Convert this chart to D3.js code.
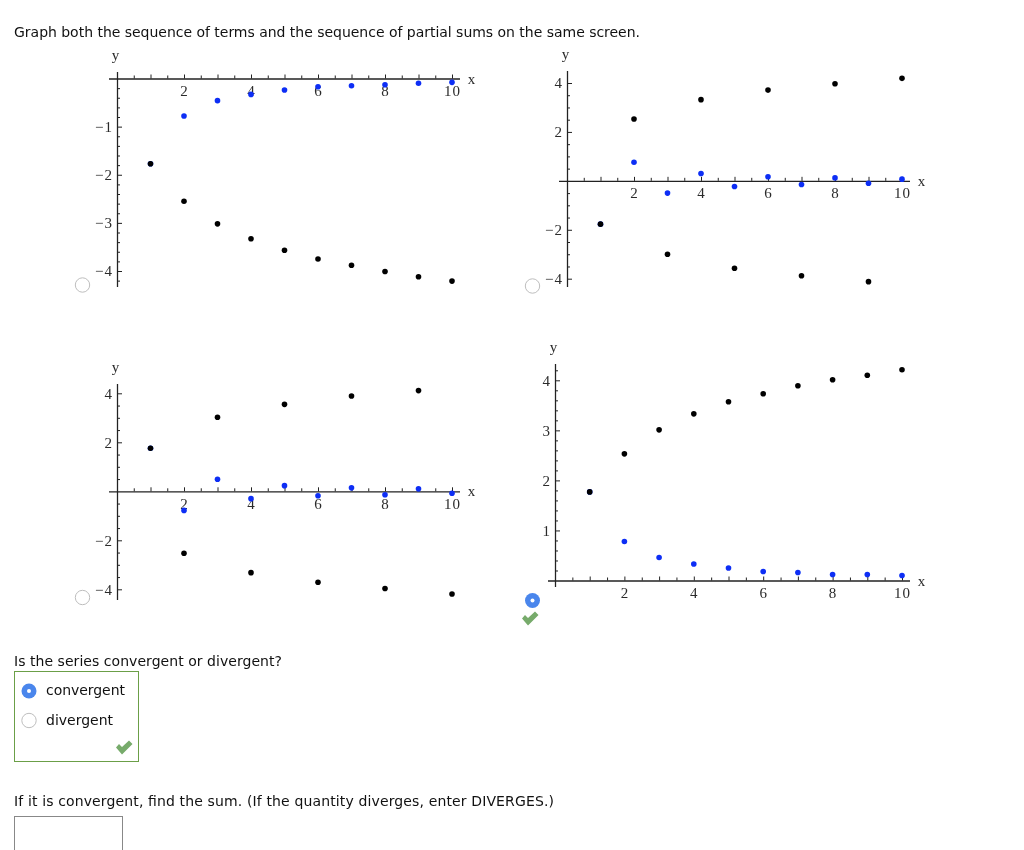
<!DOCTYPE html>
<html>
<head>
<meta charset="utf-8">
<script src="https://cdn.jsdelivr.net/npm/d3@7"></script>
<style>
  html, body { margin: 0; background: #fff; }
  svg { display: block; }
  .copy { font-family: "DejaVu Sans", sans-serif; font-size: 14px; fill: #111; }
  .tick text, .axisName { font-family: "Liberation Serif", serif; font-size: 15px; fill: #2b2b2b; letter-spacing: 1px; }
  .axis path, .axis line { stroke: #222; }
  .axis path { stroke-width: 1.3; }
</style>
</head>
<body>
<svg id="page" width="1024" height="850"></svg>
<script>
const terms = [1, 2, 3, 4, 5, 6, 7, 8, 9, 10]

const blackA = [-1.77, -2.55, -3.02, -3.33, -3.57, -3.75, -3.88, -4.01, -4.12, -4.21]
const blueA = [-1.77, -0.78, -0.46, -0.33, -0.24, -0.17, -0.15, -0.13, -0.10, -0.08]
const blackB = [-1.77, 2.53, -3.0, 3.32, -3.57, 3.71, -3.88, 3.97, -4.12, 4.19]
const blueB = [-1.77, 0.76, -0.5, 0.3, -0.23, 0.17, -0.15, 0.12, -0.1, 0.07]
const blackC = [1.76, -2.53, 3.02, -3.32, 3.55, -3.71, 3.89, -3.97, 4.11, -4.19]
const blueC = [1.76, -0.78, 0.49, -0.3, 0.23, -0.18, 0.14, -0.14, 0.1, -0.08]
const blackD = [1.77, 2.53, 3.01, 3.33, 3.57, 3.73, 3.89, 4.01, 4.1, 4.21]
const blueD = [1.77, 0.78, 0.46, 0.33, 0.25, 0.18, 0.16, 0.12, 0.12, 0.1]

const xLabels = [2, 4, 6, 8, 10]
const yLabelsA = [-1, -2, -3, -4]
const yLabelsB = [-4, -2, 2, 4]
const yLabelsD = [1, 2, 3, 4]

const questions = [
  { text: 'Graph both the sequence of terms and the sequence of partial sums on the same screen.', x: 14, y: 37, w: 626 },
  { text: 'Is the series convergent or divergent?', x: 14, y: 666, w: 268 },
  { text: 'convergent', x: 46, y: 695, w: 79 },
  { text: 'divergent', x: 46, y: 725, w: 67 },
  { text: 'If it is convergent, find the sum. (If the quantity diverges, enter DIVERGES.)', x: 14, y: 806, w: 540 }
]

const svg = d3.select('#page')

const defs = svg.append('defs')
defs.append('filter').attr('id', 'soft')
  .append('feGaussianBlur').attr('stdDeviation', 0.3)

function tickRange (min, max, step) {
  const n = Math.round((max - min) / step)
  return d3.range(n + 1).map(i => +(min + i * step).toFixed(3))
}

function drawPanel (p) {
  const x = d3.scaleLinear().domain([0, 10]).range([p.x0, p.x10])
  const y = d3.scaleLinear().domain(p.yDomain).range(p.yRange)
  const g = svg.append('g').attr('filter', 'url(#soft)')
  const fmt = v => (v < 0 ? '\u2212' + Math.abs(v) : '' + v)

  const xTicks = tickRange(0.5, 10, 0.5)
  const xAxis = d3.axisBottom(x)
    .tickValues(xTicks)
    .tickSizeOuter(0)
    .tickSizeInner(-3)
    .tickPadding(7)
    .tickFormat(v => (xLabels.includes(v) ? v : ''))
  const xg = g.append('g').attr('class', 'axis')
    .attr('transform', `translate(0,${y(0)})`)
    .call(xAxis)
  xg.select('.domain').attr('d', `M${p.xStart},0.5H${p.xEnd}`)
  xg.selectAll('.tick line').attr('y2', v => (Number.isInteger(v) ? -4 : -3))

  const yTicks = tickRange(p.minorFrom, p.minorTo, p.minorStep).filter(v => v !== 0)
  const yAxis = d3.axisLeft(y)
    .tickValues(yTicks)
    .tickSizeOuter(0)
    .tickSizeInner(-3)
    .tickPadding(4)
    .tickFormat(v => (p.yLabels.includes(v) ? fmt(v) : ''))
  const yg = g.append('g').attr('class', 'axis')
    .attr('transform', `translate(${x(0)},0)`)
    .call(yAxis)
  yg.select('.domain').attr('d', `M0.5,${p.yStart}V${p.yEnd}`)
  yg.selectAll('.tick line').attr('x2', v => (p.yLabels.includes(v) ? 5 : 3))

  g.append('text').attr('class', 'axisName')
    .attr('x', p.xEnd + 12).attr('y', y(0) + 5)
    .attr('text-anchor', 'middle').text('x')
  g.append('text').attr('class', 'axisName')
    .attr('x', x(0) - 1).attr('y', p.yStart - 12)
    .attr('text-anchor', 'middle').text('y')

  g.selectAll('.blue').data(p.blue).join('circle')
    .attr('class', 'blue')
    .attr('cx', (d, i) => x(terms[i])).attr('cy', d => y(d))
    .attr('r', 2.8).attr('fill', '#0a2df5')
  g.selectAll('.black').data(p.black).join('circle')
    .attr('class', 'black')
    .attr('cx', (d, i) => x(terms[i])).attr('cy', d => y(d))
    .attr('r', 2.8).attr('fill', '#000')
}

drawPanel({
  x0: 117, x10: 452, xStart: 109, xEnd: 460,
  yDomain: [0, -4], yRange: [78.5, 271], yStart: 72, yEnd: 287,
  minorFrom: -4.2, minorTo: -0.2, minorStep: 0.2, yLabels: yLabelsA,
  black: blackA, blue: blueA
})
drawPanel({
  x0: 567, x10: 902, xStart: 559, xEnd: 910,
  yDomain: [-4, 4], yRange: [278.7, 83], yStart: 71, yEnd: 287,
  minorFrom: -4, minorTo: 4, minorStep: 0.5, yLabels: yLabelsB,
  black: blackB, blue: blueB
})
drawPanel({
  x0: 117, x10: 452, xStart: 109, xEnd: 460,
  yDomain: [-4, 4], yRange: [589.3, 393.3], yStart: 384, yEnd: 600,
  minorFrom: -4, minorTo: 4, minorStep: 0.5, yLabels: yLabelsB,
  black: blackC, blue: blueC
})
drawPanel({
  x0: 555, x10: 902, xStart: 548, xEnd: 910,
  yDomain: [0, 4], yRange: [580.5, 380.3], yStart: 364, yEnd: 587,
  minorFrom: 0.2, minorTo: 4.2, minorStep: 0.2, yLabels: yLabelsD,
  black: blackD, blue: blueD
})

svg.selectAll('.copy').data(questions).join('text')
  .attr('class', 'copy')
  .attr('x', d => d.x).attr('y', d => d.y)
  .attr('textLength', d => d.w)
  .attr('lengthAdjust', 'spacing')
  .text(d => d.text)

// radio buttons
function radio (cx, cy, on) {
  if (on) {
    svg.append('circle').attr('cx', cx).attr('cy', cy).attr('r', 7.5).attr('fill', '#4a86ec')
    svg.append('circle').attr('cx', cx).attr('cy', cy).attr('r', 2).attr('fill', '#fff')
  } else {
    svg.append('circle').attr('cx', cx).attr('cy', cy).attr('r', 7.2)
      .attr('fill', '#fff').attr('stroke', '#bdbdbd').attr('stroke-width', 1)
  }
}
radio(82.5, 285, false)
radio(532.5, 286, false)
radio(82.5, 597.5, false)
radio(532.5, 600.5, true)
radio(29, 691, true)
radio(29, 720.5, false)

function check (x, y) {
  svg.append('path')
    .attr('transform', `translate(${x},${y})`)
    .attr('d', 'M-8,0 L-5,-3.5 L-2,-0.5 L5,-7 L8.5,-3.5 L-2,7 Z')
    .attr('fill', '#77ab6b')
}
check(530, 618.5)
check(124, 747.5)

// answer boxes
svg.append('rect').attr('x', 14.5).attr('y', 671.5).attr('width', 124).attr('height', 90)
  .attr('fill', 'none').attr('stroke', '#6b9f47')
svg.append('rect').attr('x', 14.5).attr('y', 816.5).attr('width', 108).attr('height', 50)
  .attr('fill', '#fff').attr('stroke', '#888')
</script>
</body>
</html>
